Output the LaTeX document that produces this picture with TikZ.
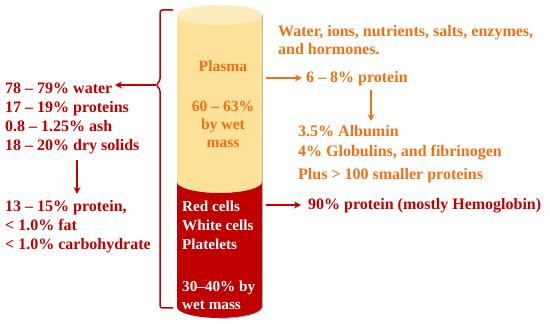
\documentclass[tikz,border=0pt]{standalone}
\usepackage{fontspec}
\setmainfont{Liberation Serif}
\usetikzlibrary{arrows.meta}
\definecolor{bred}{RGB}{192,0,0}
\definecolor{borange}{RGB}{240,112,20}
\definecolor{plasma}{RGB}{251,226,152}
\definecolor{plasmatop}{RGB}{253,237,188}
\tikzset{
  txt/.style={inner sep=0pt, anchor=base west, font=\fontsize{16}{19}\selectfont\bfseries},
  redtxt/.style={txt, text=bred},
  ortxt/.style={txt, text=borange},
  whtxt/.style={txt, text=white, font=\fontsize{15.2}{18}\selectfont\bfseries},
  ctrtxt/.style={txt, anchor=base, text=borange, font=\fontsize{15.6}{18}\selectfont\bfseries},
  redarr/.style={draw=bred, line width=1.8pt, -{Stealth[length=7pt,width=7pt]}},
  orarr/.style={draw=borange, line width=1.8pt, -{Stealth[length=7pt,width=7pt]}},
}
\begin{document}
\begin{tikzpicture}[x=1pt,y=1pt]
\useasboundingbox (0,0) rectangle (550,324);
% cylinder
\fill[plasma] (177,309) -- (177,142) arc[start angle=180,end angle=360,x radius=42.5,y radius=11] -- (262,309) -- cycle;
\fill[plasmatop] (219.5,309) ellipse[x radius=42.5,y radius=10];
\fill[bred] (177,142) arc[start angle=180,end angle=360,x radius=42.5,y radius=11] -- (262,17) arc[start angle=0,end angle=-180,x radius=42.5,y radius=11] -- cycle;
\draw[gray!60, line width=0.8pt] (262.4,309) -- (262.4,17) arc[start angle=0,end angle=-90,x radius=42.9,y radius=11.4];
% bracket
\coordinate (btop) at (173,314);
\coordinate (bbot) at (173,16);
\coordinate (tip) at (156,239);
\draw[bred, line width=1.5pt, rounded corners=2.5pt] (btop) -- (160,314) -- (160,243) -- (tip) -- (160,235) -- (160,16) -- (bbot);
% left texts
\node[redtxt] (water) at (5,230) {78 – 79\% water};
\node[redtxt] (prot) at (5,211) {17 – 19\% proteins};
\node[redtxt] (ash) at (5,192) {0.8 – 1.25\% ash};
\node[redtxt] (dry) at (5,173) {18 – 20\% dry solids};
\node[redtxt] (p1315) at (5,112) {13 – 15\% protein,};
\node[redtxt] (fat) at (5,93) {< 1.0\% fat};
\node[redtxt] (carb) at (5,74) {< 1.0\% carbohydrate};
% plasma texts
\node[ctrtxt] (plasmalbl) at (223,252) {Plasma};
\node[ctrtxt] (p6063) at (223,212) {60 – 63\%};
\node[ctrtxt] (bywet) at (223,194) {by wet};
\node[ctrtxt] (mass) at (223,176) {mass};
% cell texts
\node[whtxt] (red) at (182,112) {Red cells};
\node[whtxt] (white) at (182,93) {White cells};
\node[whtxt] (plat) at (182,74) {Platelets};
\node[whtxt] (p3040) at (182,32) {30–40\% by};
\node[whtxt] (wetmass) at (182,14) {wet mass};
% right texts
\node[ortxt] (ions) at (278,287) {Water, ions, nutrients, salts, enzymes,};
\node[ortxt] (horm) at (278,269) {and hormones.};
\node[ortxt] (p68) at (306,241) {6 – 8\% protein};
\node[ortxt] (alb) at (298,187) {3.5\% Albumin};
\node[ortxt] (glob) at (298,167) {4\% Globulins, and fibrinogen};
\node[ortxt] (plus) at (298,144) {Plus > 100 smaller proteins};
\node[redtxt] (hemo) at (308,114) {90\% protein (mostly Hemoglobin)};
% arrows
\coordinate (cylp) at (266,246);
\coordinate (cylr) at (266,119);
\draw[redarr] (tip) -- (115,239);
\draw[redarr] (77,164) -- (77,130);
\draw[orarr] (cylp) -- (302,246);
\draw[orarr] (371,234) -- (371,203);
\draw[redarr] (cylr) -- (301,119);
\end{tikzpicture}
\end{document}
